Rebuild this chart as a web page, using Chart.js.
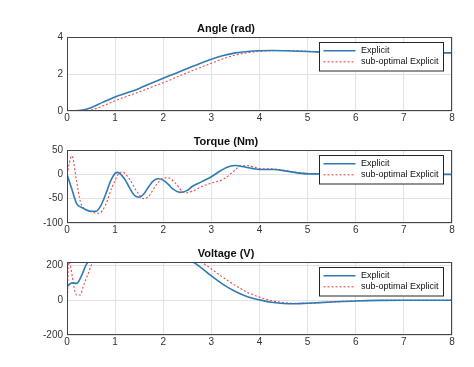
<!DOCTYPE html>
<html>
<head>
<meta charset="UTF-8">
<script src="https://cdn.jsdelivr.net/npm/chart.js@4.4.1/dist/chart.umd.min.js"></script>
<style>
  html, body { margin: 0; padding: 0; background: #fff; }
  #wrap { position: relative; width: 474px; height: 367px; overflow: hidden; }
  canvas { position: absolute; left: 0; }
</style>
</head>
<body>
<div id="wrap">
  <canvas id="angle" width="474" height="110" style="top:17px"></canvas>
  <canvas id="torque" width="474" height="109" style="top:130px"></canvas>
  <canvas id="voltage" width="474" height="109" style="top:242px"></canvas>
</div>
<script>
// ---- data ----
var seriesNames = ['Explicit', 'sub-optimal Explicit'];
var xTicks = [0, 1, 2, 3, 4, 5, 6, 7, 8];

// Angle (rad)
var angleT = [0, 0.25, 0.5, 0.75, 1, 1.25, 1.5, 1.75, 2, 2.25, 2.5, 2.75, 3, 3.25, 3.5, 3.75, 4, 4.25, 4.5, 5, 5.5, 6, 6.5, 7, 7.5, 8];
var angleExplicit = [0, 0.02, 0.18, 0.48, 0.76, 0.98, 1.22, 1.5, 1.77, 2.03, 2.3, 2.56, 2.8, 3.0, 3.14, 3.22, 3.26, 3.27, 3.26, 3.22, 3.17, 3.15, 3.14, 3.14, 3.14, 3.14];
var angleSubOpt = [0, 0, 0.05, 0.28, 0.56, 0.8, 1.03, 1.28, 1.53, 1.8, 2.07, 2.33, 2.58, 2.83, 3.02, 3.15, 3.22, 3.26, 3.27, 3.23, 3.18, 3.15, 3.14, 3.14, 3.14, 3.14];
var angleYTicks = [0, 2, 4];

// Torque (Nm)
var torqueExplicitT = [0, 0.1, 0.2, 0.3, 0.4, 0.5, 0.6, 0.7, 0.8, 0.9, 1.0, 1.05, 1.2, 1.3, 1.4, 1.5, 1.6, 1.7, 1.8, 1.9, 2.0, 2.1, 2.2, 2.35, 2.5, 2.6, 2.8, 3.0, 3.2, 3.4, 3.5, 3.7, 4.0, 4.3, 4.6, 5.0, 5.5, 6, 7, 8];
var torqueExplicit = [0, -30, -60, -68, -73, -76, -76, -65, -42, -15, 2, 4, -10, -28, -43, -47, -40, -25, -13, -9, -12, -20, -30, -37, -33, -25, -15, -5, 8, 17, 18, 15, 10, 10, 6, 1, 1, 0, 0, 0];
var torqueSubOptT = [0, 0.1, 0.2, 0.28, 0.38, 0.5, 0.66, 0.8, 0.93, 1.08, 1.15, 1.3, 1.45, 1.6, 1.7, 1.85, 2.0, 2.1, 2.25, 2.45, 2.6, 2.8, 3.0, 3.25, 3.45, 3.6, 3.75, 4.0, 4.3, 4.7, 5.0, 5.5, 6, 7, 8];
var torqueSubOpt = [0, 38, -15, -57, -72, -77, -80, -63, -28, 2, 5, -10, -35, -50, -45, -22, -8, -7, -18, -38, -35, -25, -18, -10, 5, 17, 18, 12, 11, 5, 2, 1, 0, 0, 0];
var torqueYTicks = [-100, -50, 0, 50];

// Voltage (V)
var voltageExplicitT = [0, 0.1, 0.2, 0.3, 0.4, 0.45, 1, 2, 2.6, 2.75, 3.0, 3.25, 3.5, 3.75, 4.0, 4.25, 4.5, 4.75, 5, 5.5, 6, 6.5, 7, 8];
var voltageExplicit = [78, 100, 97, 140, 205, 220, 220, 220, 220, 195, 140, 90, 50, 20, 2, -12, -19, -20, -17, -10, -4, -1, 0, 0];
var voltageSubOptT = [0, 0.03, 0.07, 0.15, 0.2, 0.27, 0.35, 0.45, 0.55, 1, 2, 2.75, 2.9, 3.0, 3.25, 3.5, 3.75, 4.0, 4.25, 4.5, 4.75, 5, 5.5, 6, 7, 8];
var voltageSubOpt = [-190, 220, 200, 70, 30, 30, 90, 160, 220, 220, 220, 220, 200, 180, 130, 85, 45, 18, -2, -13, -18, -17, -10, -4, 0, 0];
var voltageYTicks = [-200, 0, 200];

// ---- styling ----
var FONT = 'Liberation Sans, Arial, Helvetica, sans-serif';
var seriesStyle = [
  { color: '#2e7bb4', width: 1.6, dash: [] },
  { color: '#ee4848', width: 1.1, dash: [2, 2] }
];

function pts(t, v) {
  return t.map(function (x, i) { return { x: x, y: v[i] }; });
}

// axes box like matlab (top + right edges too)
var framePlugin = {
  id: 'frame',
  afterDatasetsDraw: function (chart) {
    var a = chart.chartArea, ctx = chart.ctx;
    ctx.save();
    ctx.strokeStyle = '#454545';
    ctx.lineWidth = 1;
    ctx.strokeRect(Math.round(a.left) + 0.5, Math.round(a.top) + 0.5,
                   Math.round(a.right - a.left) - 1, Math.round(a.bottom - a.top) - 1);
    ctx.restore();
  }
};

// boxed legend inside the upper right corner
var boxLegend = {
  id: 'boxLegend',
  afterDatasetsDraw: function (chart) {
    var a = chart.chartArea, ctx = chart.ctx;
    var w = 124, h = 28.5;
    var x0 = Math.round(a.right - 9 - w) + 0.5, y0 = Math.round(a.top + 5) + 0.5;
    ctx.save();
    ctx.fillStyle = '#fff';
    ctx.fillRect(x0, y0, w, h);
    ctx.strokeStyle = '#262626';
    ctx.lineWidth = 1;
    ctx.strokeRect(x0, y0, w, h);
    ctx.font = '9px ' + FONT;
    ctx.textBaseline = 'middle';
    chart.data.datasets.forEach(function (ds, i) {
      var y = y0 + 8.3 + i * 11;
      ctx.beginPath();
      ctx.strokeStyle = ds.borderColor;
      ctx.lineWidth = ds.borderWidth;
      ctx.setLineDash(ds.borderDash || []);
      ctx.moveTo(x0 + 4, y);
      ctx.lineTo(x0 + 36, y);
      ctx.stroke();
      ctx.setLineDash([]);
      ctx.fillStyle = '#111';
      ctx.fillText(ds.label, x0 + 41.5, y);
    });
    ctx.restore();
  }
};

function makeChart(id, title, yMin, yMax, yTicks, series) {
  var datasets = series.map(function (s, i) {
    return {
      label: seriesNames[i],
      data: s,
      borderColor: seriesStyle[i].color,
      borderWidth: seriesStyle[i].width,
      borderDash: seriesStyle[i].dash,
      pointRadius: 0,
      fill: false,
      cubicInterpolationMode: 'monotone'
    };
  });
  return new Chart(document.getElementById(id), {
    type: 'line',
    data: { datasets: datasets },
    options: {
      responsive: false,
      animation: false,
      layout: { padding: { left: 0, right: 22, top: 0, bottom: 0 } },
      plugins: {
        legend: { display: false },
        tooltip: { enabled: false },
        title: {
          display: true,
          text: title,
          color: '#111',
          font: { family: FONT, size: 11, weight: 'bold' },
          padding: { top: 5.4, bottom: 1.4 }
        }
      },
      scales: {
        x: {
          type: 'linear',
          min: 0, max: 8,
          afterBuildTicks: function (s) { s.ticks = xTicks.map(function (v) { return { value: v }; }); },
          afterFit: function (s) { s.height = 16; },
          ticks: { color: '#333', font: { family: FONT, size: 10 }, padding: 1, maxRotation: 0 },
          grid: { color: '#e2e2e2', drawTicks: false },
          border: { display: false }
        },
        y: {
          min: yMin, max: yMax,
          afterBuildTicks: function (s) { s.ticks = yTicks.map(function (v) { return { value: v }; }); },
          afterFit: function (s) { s.width = 67; },
          ticks: { color: '#333', font: { family: FONT, size: 10 }, padding: 4 },
          grid: { color: '#e2e2e2', drawTicks: false },
          border: { display: false }
        }
      }
    },
    plugins: [framePlugin, boxLegend]
  });
}

makeChart('angle', 'Angle (rad)', 0, 4, angleYTicks,
  [pts(angleT, angleExplicit), pts(angleT, angleSubOpt)]);
makeChart('torque', 'Torque (Nm)', -100, 50, torqueYTicks,
  [pts(torqueExplicitT, torqueExplicit), pts(torqueSubOptT, torqueSubOpt)]);
makeChart('voltage', 'Voltage (V)', -200, 220, voltageYTicks,
  [pts(voltageExplicitT, voltageExplicit), pts(voltageSubOptT, voltageSubOpt)]);
</script>
</body>
</html>
